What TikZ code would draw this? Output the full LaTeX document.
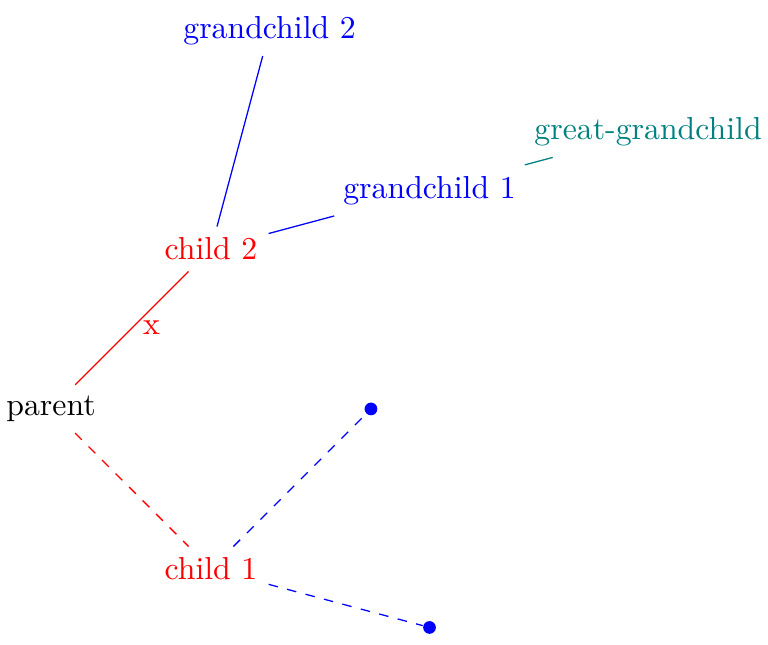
\documentclass[tikz,border=0pt]{standalone}
\usepackage{xcolor}
\usepackage{tikz}
\usetikzlibrary{positioning}

\begin{document}
\begin{tikzpicture}[
    kid/.style={text=red},
    grandkid/.style={text=blue},
    leafdot/.style={circle, fill=blue, inner sep=0pt, minimum size=4pt},
  ]

    \useasboundingbox (-0.564,-2.608) rectangle (7.923,4.519);

    \node (parent) at (0,0) {parent};
    \node[kid] (child1) at ([shift={(-45:2.5cm)}]parent) {child 1};
    \node[kid] (child2) at ([shift={(45:2.5cm)}]parent) {child 2};

    \node[grandkid] (grandchild1) at ([shift={(15:2.5cm)}]child2) {grandchild 1};
    \node[grandkid] (grandchild2) at ([shift={(75:2.5cm)}]child2) {grandchild 2};
    \node[text=teal] (greatgrandchild) at ([shift={(15:2.5cm)}]grandchild1) {great-grandchild};

    \node[leafdot] (dot1) at ([shift={(45:2.5cm)}]child1) {};
    \node[leafdot] (dot2) at ([shift={(-15:2.5cm)}]child1) {};

    \draw[red] (parent) -- node[right] {x} (child2);
    \draw[red, dashed] (parent) -- (child1);
    \draw[blue] (child2) -- (grandchild1);
    \draw[blue] (child2) -- (grandchild2);
    \draw[teal] (grandchild1) -- (greatgrandchild);
    \draw[blue, dashed] (child1) -- (dot1);
    \draw[blue, dashed] (child1) -- (dot2);
\end{tikzpicture}
\end{document}
